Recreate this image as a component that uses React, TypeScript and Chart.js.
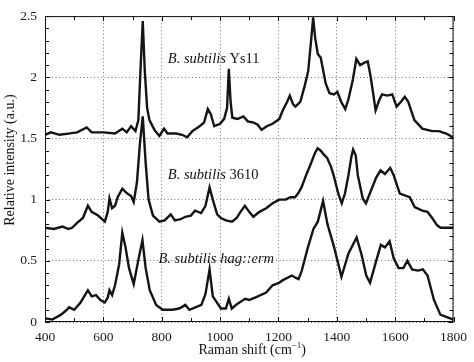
import React, { useEffect, useRef } from "react";
import { Chart, registerables } from "chart.js";

Chart.register(...registerables);

// Raman shift (cm-1) and relative intensity for each strain
const ys11Shift = [400, 420, 450, 480, 510, 543, 560, 600, 640, 665, 680, 695, 710, 720, 728, 735, 742, 750, 758, 775, 792, 808, 820, 850, 870, 887, 905, 930, 945, 958, 968, 980, 1000, 1014, 1024, 1030, 1036, 1042, 1060, 1080, 1095, 1115, 1130, 1142, 1160, 1180, 1203, 1215, 1230, 1239, 1250, 1258, 1275, 1290, 1302, 1312, 1319, 1326, 1335, 1345, 1362, 1375, 1390, 1402, 1415, 1429, 1440, 1455, 1467, 1480, 1495, 1506, 1515, 1524, 1533, 1545, 1555, 1573, 1590, 1605, 1620, 1633, 1645, 1656, 1666, 1693, 1727, 1750, 1775, 1790, 1800];
const ys11Int = [1.53, 1.55, 1.53, 1.54, 1.55, 1.59, 1.55, 1.55, 1.54, 1.58, 1.55, 1.6, 1.56, 1.65, 2.1, 2.46, 2.05, 1.75, 1.65, 1.57, 1.52, 1.58, 1.54, 1.54, 1.53, 1.51, 1.56, 1.6, 1.63, 1.74, 1.7, 1.6, 1.62, 1.66, 1.75, 2.07, 1.8, 1.67, 1.66, 1.68, 1.64, 1.63, 1.61, 1.57, 1.6, 1.62, 1.66, 1.73, 1.8, 1.85, 1.78, 1.76, 1.8, 1.93, 2.05, 2.3, 2.49, 2.32, 2.19, 2.16, 1.95, 1.87, 1.86, 1.88, 1.8, 1.74, 1.82, 1.98, 2.15, 2.1, 2.12, 2.13, 2.02, 1.88, 1.73, 1.81, 1.86, 1.85, 1.86, 1.76, 1.8, 1.84, 1.8, 1.72, 1.65, 1.58, 1.56, 1.56, 1.54, 1.52, 1.5];

const s3610Shift = [400, 430, 460, 480, 493, 510, 530, 547, 560, 582, 605, 615, 621, 630, 640, 649, 665, 682, 695, 704, 715, 725, 735, 745, 755, 770, 792, 810, 831, 845, 865, 881, 900, 914, 935, 950, 964, 975, 990, 1003, 1020, 1041, 1057, 1070, 1085, 1100, 1114, 1135, 1158, 1180, 1203, 1225, 1241, 1257, 1270, 1279, 1295, 1312, 1325, 1334, 1345, 1355, 1367, 1380, 1389, 1405, 1417, 1428, 1440, 1450, 1456, 1465, 1472, 1489, 1500, 1515, 1535, 1550, 1565, 1583, 1595, 1616, 1638, 1650, 1667, 1693, 1711, 1727, 1744, 1756, 1770, 1800];
const s3610Int = [0.77, 0.76, 0.78, 0.76, 0.77, 0.81, 0.85, 0.95, 0.9, 0.87, 0.82, 0.9, 1.01, 0.93, 0.95, 1.02, 1.09, 1.05, 1.03, 0.98, 1.14, 1.45, 1.68, 1.3, 1.0, 0.87, 0.82, 0.83, 0.88, 0.83, 0.84, 0.86, 0.87, 0.91, 0.89, 0.95, 1.1, 1.0, 0.88, 0.85, 0.83, 0.82, 0.85, 0.9, 0.95, 0.9, 0.86, 0.9, 0.93, 0.97, 1.0, 1.0, 1.02, 1.02, 1.06, 1.1, 1.2, 1.3, 1.38, 1.42, 1.4, 1.37, 1.34, 1.27, 1.2, 1.05, 0.97, 1.05, 1.2, 1.35, 1.41, 1.36, 1.2, 1.01, 0.97, 1.06, 1.18, 1.24, 1.21, 1.26, 1.2, 1.05, 1.03, 1.02, 0.94, 0.91, 0.9, 0.85, 0.79, 0.77, 0.77, 0.77];

const hagShift = [400, 425, 455, 470, 483, 500, 522, 547, 560, 575, 590, 605, 615, 621, 630, 640, 654, 665, 676, 688, 704, 721, 734, 745, 759, 781, 803, 837, 860, 881, 895, 936, 950, 964, 975, 1003, 1020, 1030, 1040, 1060, 1086, 1100, 1120, 1158, 1180, 1202, 1214, 1246, 1260, 1269, 1280, 1301, 1320, 1335, 1353, 1368, 1391, 1416, 1440, 1468, 1485, 1501, 1514, 1535, 1551, 1565, 1581, 1595, 1612, 1628, 1642, 1658, 1678, 1695, 1711, 1733, 1755, 1777, 1800];
const hagInt = [0.03, 0.02, 0.06, 0.09, 0.12, 0.1, 0.16, 0.26, 0.21, 0.22, 0.18, 0.16, 0.2, 0.26, 0.22, 0.3, 0.47, 0.73, 0.61, 0.44, 0.31, 0.52, 0.67, 0.44, 0.26, 0.14, 0.1, 0.1, 0.11, 0.14, 0.1, 0.14, 0.23, 0.43, 0.21, 0.11, 0.11, 0.19, 0.11, 0.15, 0.19, 0.18, 0.2, 0.24, 0.3, 0.32, 0.34, 0.38, 0.36, 0.35, 0.42, 0.61, 0.76, 0.82, 0.99, 0.8, 0.61, 0.37, 0.56, 0.69, 0.55, 0.38, 0.32, 0.5, 0.63, 0.61, 0.66, 0.52, 0.44, 0.44, 0.5, 0.43, 0.42, 0.43, 0.38, 0.18, 0.06, 0.04, 0.02];

const xTicks = [400, 600, 800, 1000, 1200, 1400, 1600, 1800];
const yTicks = [0, 0.5, 1, 1.5, 2, 2.5];

// label anchors in data units: [shift, intensity]
const labelAnchors = [
  [821, 2.12],
  [821, 1.17],
  [789, 0.485],
];

const SERIF = "'Liberation Serif', 'Times New Roman', serif";

const decorPlugin = {
  id: "decor",
  afterDatasetsDraw(chart: any) {
    const { ctx, chartArea, scales } = chart;
    const xs = scales.x;
    const ys = scales.y;
    const { left, right, top, bottom } = chartArea;
    ctx.save();
    // frame
    ctx.strokeStyle = "#111";
    ctx.lineWidth = 1;
    ctx.setLineDash([]);
    ctx.strokeRect(left + 0.5, top + 0.5, right - left - 1, bottom - top - 1);
    // minor inward ticks
    ctx.beginPath();
    for (let v = 400; v <= 1800; v += 100) {
      const px = Math.round(xs.getPixelForValue(v)) + 0.5;
      const len = v % 200 === 0 ? 5 : 4;
      ctx.moveTo(px, bottom);
      ctx.lineTo(px, bottom - len);
      ctx.moveTo(px, top);
      ctx.lineTo(px, top + len);
    }
    for (let i = 0; i <= 25; i++) {
      const v = i / 10;
      const py = Math.round(ys.getPixelForValue(v)) + 0.5;
      const len = i % 5 === 0 ? 5 : 4;
      ctx.moveTo(left, py);
      ctx.lineTo(left + len, py);
      ctx.moveTo(right, py);
      ctx.lineTo(right - len, py);
    }
    ctx.stroke();

    // series labels
    ctx.fillStyle = "#111";
    ctx.textBaseline = "alphabetic";
    ctx.textAlign = "left";
    const parts: [string, string][] = [
      ["B. subtilis ", "Ys11"],
      ["B. subtilis ", "3610"],
      ["B. subtilis hag::erm", ""],
    ];
    parts.forEach((p, i) => {
      const x = xs.getPixelForValue(labelAnchors[i][0]);
      const y = ys.getPixelForValue(labelAnchors[i][1]);
      ctx.font = `italic 14.5px ${SERIF}`;
      ctx.fillText(p[0], x, y);
      const w = ctx.measureText(p[0]).width;
      ctx.font = `14.5px ${SERIF}`;
      if (p[1]) ctx.fillText(p[1], x + w, y);
    });

    // x axis title
    ctx.font = `14px ${SERIF}`;
    const main = "Raman shift (cm";
    const sup = "\u22121";
    const wMain = ctx.measureText(main).width;
    ctx.font = `9px ${SERIF}`;
    const wSup = ctx.measureText(sup).width;
    ctx.font = `14px ${SERIF}`;
    const wEnd = ctx.measureText(")").width;
    const total = wMain + wSup + wEnd;
    const cx = (left + right) / 2 + 3;
    let tx = cx - total / 2;
    const ty = bottom + 32;
    ctx.fillText(main, tx, ty);
    tx += wMain;
    ctx.font = `9px ${SERIF}`;
    ctx.fillText(sup, tx, ty - 6);
    tx += wSup;
    ctx.font = `14px ${SERIF}`;
    ctx.fillText(")", tx, ty);

    // y axis title
    ctx.save();
    ctx.translate(14, (top + bottom) / 2 - 9);
    ctx.rotate(-Math.PI / 2);
    ctx.textAlign = "center";
    ctx.font = `14px ${SERIF}`;
    ctx.fillText("Relative intensity (a.u.)", 0, 0);
    ctx.restore();

    ctx.restore();
  },
};

export default function App() {
  const ref = useRef<HTMLCanvasElement | null>(null);
  useEffect(() => {
    if (!ref.current) return;
    const mk = (xa: number[], ya: number[]) => xa.map((x, i) => ({ x, y: ya[i] }));
    const common = {
      borderColor: "#141414",
      borderWidth: 2.4,
      pointRadius: 0,
      tension: 0,
      fill: false,
    };
    const chart = new Chart(ref.current, {
      type: "line",
      data: {
        datasets: [
          { label: "Ys11", data: mk(ys11Shift, ys11Int), ...common },
          { label: "3610", data: mk(s3610Shift, s3610Int), ...common },
          { label: "hag::erm", data: mk(hagShift, hagInt), ...common },
        ],
      },
      options: {
        responsive: false,
        animation: false,
        events: [],
        layout: { padding: { top: 11, right: 7, left: 0, bottom: 0 } },
        plugins: { legend: { display: false }, tooltip: { enabled: false } },
        scales: {
          x: {
            type: "linear",
            min: 400,
            max: 1800,
            afterBuildTicks: (s: any) => {
              s.ticks = xTicks.map((v) => ({ value: v }));
            },
            afterFit: (s: any) => {
              s.height = 40;
            },
            ticks: {
              padding: 7,
              color: "#1a1a1a",
              font: { family: SERIF, size: 13.5 },
              maxRotation: 0,
              autoSkip: false,
              callback: (v: any) => String(v),
            },
            grid: { color: "#7a7a7a", lineWidth: 1, drawTicks: false },
            border: { display: false, dash: [1, 2.5] },
          },
          y: {
            type: "linear",
            min: 0,
            max: 2.5,
            afterBuildTicks: (s: any) => {
              s.ticks = yTicks.map((v) => ({ value: v }));
            },
            afterFit: (s: any) => {
              s.width = 45;
            },
            ticks: {
              padding: 8,
              color: "#1a1a1a",
              font: { family: SERIF, size: 13.5 },
              autoSkip: false,
              callback: (v: any) => String(v),
            },
            grid: { color: "#7a7a7a", lineWidth: 1, drawTicks: false },
            border: { display: false, dash: [1, 2.5] },
          },
        },
      },
      plugins: [decorPlugin],
    } as any);
    return () => chart.destroy();
  }, []);
  return (
    <div style={{ position: "absolute", left: 0, top: 0, width: 474, height: 362, background: "#fff" }}>
      <canvas ref={ref} width={474} height={362} style={{ width: 474, height: 362, display: "block" }} />
    </div>
  );
}
